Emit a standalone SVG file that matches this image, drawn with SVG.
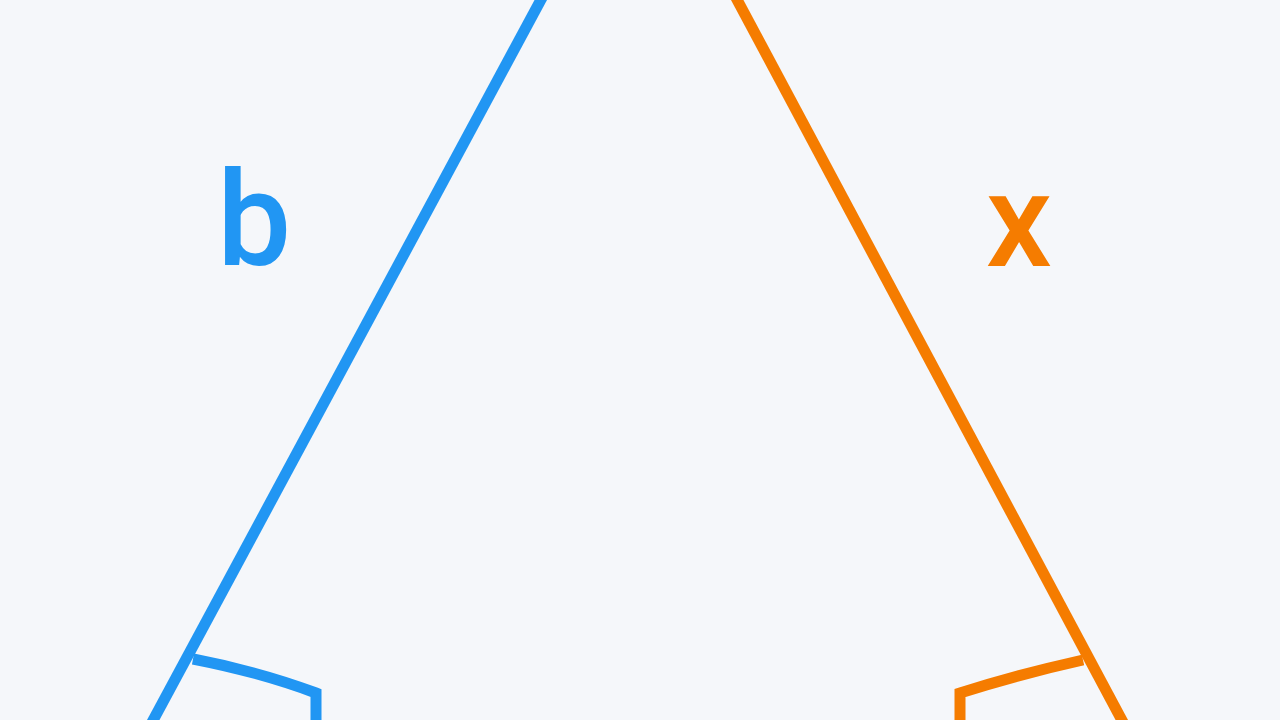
<svg xmlns="http://www.w3.org/2000/svg" width="1280" height="720" viewBox="0 0 1280 720">
<style>
.blue{stroke:#2196F3;fill:none;stroke-width:11;stroke-linejoin:miter}
.orange{stroke:#F57C00;fill:none;stroke-width:11;stroke-linejoin:miter}
.lbl{font-family:Roboto,"Liberation Sans",sans-serif;font-weight:500;font-size:132px;text-anchor:middle}
</style>
<rect width="1280" height="720" fill="#F5F7FA"/>
<g id="connectors">
<line id="side-b" class="blue" x1="544" y1="-6" x2="150" y2="726"/>
<line id="side-x" class="orange" x1="734" y1="-6" x2="1125" y2="726"/>
</g>
<g id="angle-left">
<path class="blue" d="M193,659 Q260,672 316,693 L316,725"/>
</g>
<g id="angle-right">
<path class="orange" d="M1083,660 Q1020,674 960,693 L960,725"/>
</g>
<g id="label-b"><text class="lbl" x="254" y="265" fill="#2196F3">b</text></g>
<g id="label-x"><text class="lbl" x="1019" y="266" fill="#F57C00">x</text></g>
</svg>
